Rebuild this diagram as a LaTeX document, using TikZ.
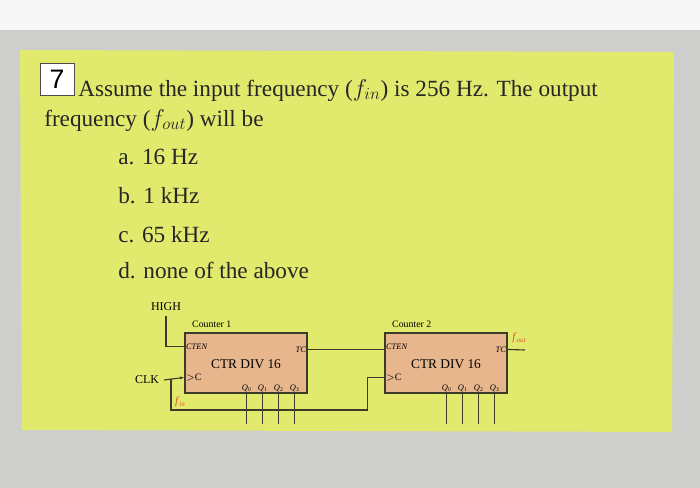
\documentclass[tikz,border=0pt]{standalone}
\usepackage{fontspec}
\setmainfont{Liberation Serif}
\newfontfamily\digitfont{Liberation Sans}
\usetikzlibrary{positioning,calc,arrows.meta}
\definecolor{screengray}{RGB}{206,206,204}
\definecolor{panelyellow}{RGB}{226,234,110}
\definecolor{ctrfill}{RGB}{232,182,140}
\definecolor{wirecolor}{RGB}{60,58,40}
\definecolor{freqcolor}{RGB}{214,90,40}
\begin{document}
\begin{tikzpicture}[x=0.025cm,y=-0.025cm,
    ctr/.style={rectangle, draw=wirecolor, line width=0.8pt, fill=ctrfill, minimum width=3.05cm, minimum height=1.5cm, inner sep=0pt},
    wire/.style={draw=wirecolor, line width=0.8pt},
    pin/.style={font=\fontsize{6}{7}\selectfont\itshape, inner sep=1pt},
    question/.style={anchor=base west, inner sep=0pt, font=\fontsize{16.5}{18}\selectfont, text=black!85},
    choice/.style={anchor=base west, inner sep=0pt, font=\fontsize{16.5}{18}\selectfont, text=black!85},
    freq/.style={font=\fontsize{8}{9}\selectfont, text=freqcolor}
]
\useasboundingbox (0,0) rectangle (700,488);
\fill[screengray] (0,0) rectangle (700,488);
\fill[black!3] (0,0) rectangle (700,30);
\fill[panelyellow] (20,50) -- (674,52) -- (672,432) -- (22,430) -- cycle;

% Question
\node[draw=black!70, fill=white, font=\digitfont\fontsize{19}{20}\selectfont, inner sep=1pt, minimum width=0.85cm, minimum height=0.8cm] (num) at (57,79) {7};
\node[question] (line1) at (78,96) {Assume the input frequency ($f_{in}$) is 256 Hz. The output};
\node[question] (line2) at (44,126) {frequency ($f_{out}$) will be};
\node[choice] (opta) at (118,164) {a. 16 Hz};
\node[choice] (optb) at (118,203) {b. 1 kHz};
\node[choice] (optc) at (118,242) {c. 65 kHz};
\node[choice] (optd) at (118,278) {d. none of the above};

% Counters
\node[ctr] (ctrA) at (246,363) {};
\node[ctr] (ctrB) at (446,363) {};
\node[font=\fontsize{9.5}{11}\selectfont] at ($(ctrA)+(0,1)$) {CTR DIV 16};
\node[font=\fontsize{9.5}{11}\selectfont] at ($(ctrB)+(0,1)$) {CTR DIV 16};
\node[font=\fontsize{7}{8}\selectfont, above right=0pt and 2pt of ctrA.north west] (labA) {Counter 1};
\node[font=\fontsize{7}{8}\selectfont, above right=0pt and 2pt of ctrB.north west] (labB) {Counter 2};

\coordinate (enA) at ($(ctrA.north west)+(0,14)$);
\coordinate (clkA) at ($(ctrA.north west)+(0,45)$);
\coordinate (tcA) at ($(ctrA.north east)+(0,17)$);
\coordinate (enB) at ($(ctrB.north west)+(0,14)$);
\coordinate (clkB) at ($(ctrB.north west)+(0,45)$);
\coordinate (tcB) at ($(ctrB.north east)+(0,17)$);
\foreach \c in {A,B} {
  \node[pin, anchor=west] at (en\c) {CTEN};
  \node[pin, anchor=west, font=\fontsize{7}{8}\selectfont] at (clk\c) {$>$C};
  \node[pin, anchor=east] at (tc\c) {TC};
}
\foreach \c in {A,B}
  \foreach \i/\dx in {0/62,1/78,2/94,3/110} {
    \coordinate (q\c\i) at ($(ctr\c.south west)+(\dx,0)$);
    \node[pin, above=0pt of q\c\i] {Q\raisebox{-0.3ex}{\fontsize{4}{5}\selectfont\upshape\i}};
    \draw[wire] (q\c\i) -- ++(0,30);
  }

% Inputs and wiring
\node[font=\fontsize{8.5}{10}\selectfont] (high) at (166,307) {HIGH};
\node[font=\fontsize{8.5}{10}\selectfont] (clk) at (147,380) {CLK};
\coordinate (tap) at (171,380);
\coordinate (fout) at (525,350);
\draw[wire] (high.south) |- (enA);
\draw[wire, -{Latex[length=3pt]}] (clk.east) -- (clkA);
\fill[wirecolor] (tap) circle (1.4);
\draw[wire] (tap) -- ++(0,30) -| ($(clkB)+(-17,0)$) -- (clkB);
\draw[wire] (tcA) -- (tcB -| enB);
\draw[wire] (tcB) -- (fout);
\node[freq] (fin) at (180,402) {\textit{f}\raisebox{-0.4ex}{\fontsize{5}{6}\selectfont\itshape in}};
\node[freq] (foutlab) at (519,338) {\textit{f}\raisebox{-0.4ex}{\fontsize{5}{6}\selectfont\itshape out}};
\end{tikzpicture}
\end{document}
